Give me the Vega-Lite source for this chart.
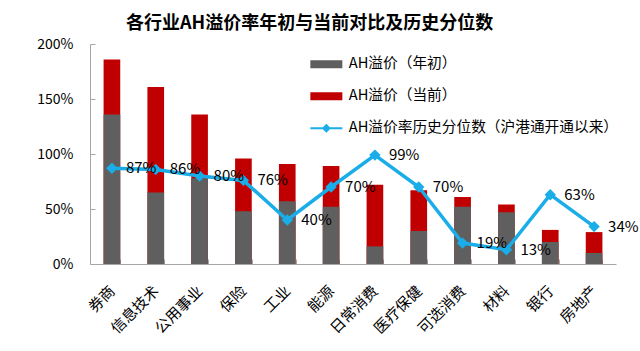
{
  "$schema": "https://vega.github.io/schema/vega-lite/v6.json",
  "autosize": "none",
  "width": 526,
  "height": 220,
  "padding": {"left": 90, "top": 44, "right": 24, "bottom": 87},
  "background": "white",
  "config": {
    "font": "Noto Sans CJK SC",
    "view": {"stroke": null},
    "axis": {"grid": false, "domainColor": "#A6A6A6", "tickColor": "#A6A6A6", "labelColor": "#000000", "labelFont": "Noto Sans CJK SC", "labelFontSize": 14}
  },
  "title": {
    "text": "各行业AH溢价率年初与当前对比及历史分位数",
    "anchor": "start",
    "frame": "group",
    "dx": 36,
    "offset": 4,
    "fontSize": 18,
    "fontWeight": "bold",
    "color": "#000000",
    "font": "Noto Sans CJK SC"
  },
  "data": {
    "values": [
      {"industry": "券商", "start": 1.36, "current": 1.86, "pct": 0.87},
      {"industry": "信息技术", "start": 0.65, "current": 1.61, "pct": 0.86},
      {"industry": "公用事业", "start": 0.78, "current": 1.36, "pct": 0.80},
      {"industry": "保险", "start": 0.48, "current": 0.96, "pct": 0.76},
      {"industry": "工业", "start": 0.57, "current": 0.91, "pct": 0.40},
      {"industry": "能源", "start": 0.52, "current": 0.89, "pct": 0.70},
      {"industry": "日常消费", "start": 0.16, "current": 0.72, "pct": 0.99},
      {"industry": "医疗保健", "start": 0.30, "current": 0.67, "pct": 0.70},
      {"industry": "可选消费", "start": 0.52, "current": 0.61, "pct": 0.19},
      {"industry": "材料", "start": 0.47, "current": 0.54, "pct": 0.13},
      {"industry": "银行", "start": 0.20, "current": 0.31, "pct": 0.63},
      {"industry": "房地产", "start": 0.10, "current": 0.29, "pct": 0.34}
    ]
  },
  "encoding": {
    "x": {
      "field": "industry",
      "type": "nominal",
      "sort": null,
      "title": null,
      "scale": {"paddingInner": 0.62, "paddingOuter": 0.31},
      "axis": {"labelAngle": -45, "labelAlign": "right", "labelBaseline": "middle", "tickBand": "extent", "tickSize": -5, "labelPadding": 29, "labelFontSize": 15}
    }
  },
  "layer": [
    {
      "mark": {"type": "bar"},
      "encoding": {
        "y": {
          "field": "current",
          "type": "quantitative",
          "title": null,
          "scale": {"domain": [0, 2]},
          "axis": {"format": ".0%", "values": [0, 0.5, 1, 1.5, 2], "tickSize": -5, "labelPadding": 22}
        },
        "color": {
          "datum": "AH溢价（当前）",
          "scale": {
            "domain": ["AH溢价（年初）", "AH溢价（当前）", "AH溢价率历史分位数（沪港通开通以来）"],
            "range": ["#5F5F5F", "#C00000", "#1AADE8"]
          },
          "legend": {
            "title": null,
            "orient": "none",
            "legendX": 229,
            "legendY": 13,
            "padding": 0,
            "symbolSize": 100,
            "symbolOffset": 0,
            "labelOffset": 15,
            "labelFontSize": 14.7,
            "labelColor": "#000000",
            "labelLimit": 400,
            "rowPadding": 16,
            "symbolStrokeWidth": 0,
            "encode": {
              "symbols": {
                "update": {
                  "fill": {"scale": "color", "field": "value"},
                  "strokeWidth": {"value": 0},
                  "opacity": {"value": 1},
                  "shape": {"signal": "datum.value === 'AH溢价率历史分位数（沪港通开通以来）' ? 'M-3.2,-0.2H3.2V0.2H-3.2Z M0,-0.9L0.9,0L0,0.9L-0.9,0Z' : 'M-3.2,-0.8H3.2V0.8H-3.2Z'"}
                }
              }
            }
          }
        }
      }
    },
    {
      "mark": {"type": "bar"},
      "encoding": {
        "y": {"field": "start", "type": "quantitative"},
        "color": {"datum": "AH溢价（年初）"}
      }
    },
    {
      "mark": {"type": "line", "strokeWidth": 3.5},
      "encoding": {
        "y": {"field": "pct", "type": "quantitative"},
        "color": {"datum": "AH溢价率历史分位数（沪港通开通以来）"}
      }
    },
    {
      "mark": {"type": "point", "shape": "diamond", "filled": true, "size": 130, "opacity": 1},
      "encoding": {
        "y": {"field": "pct", "type": "quantitative"},
        "color": {"datum": "AH溢价率历史分位数（沪港通开通以来）"}
      }
    },
    {
      "mark": {"type": "text", "align": "left", "baseline": "middle", "dx": 14, "fontSize": 15, "color": "#000000"},
      "encoding": {
        "y": {"field": "pct", "type": "quantitative"},
        "text": {"field": "pct", "type": "quantitative", "format": ".0%"}
      }
    }
  ],
  "resolve": {"scale": {"color": "shared"}}
}
